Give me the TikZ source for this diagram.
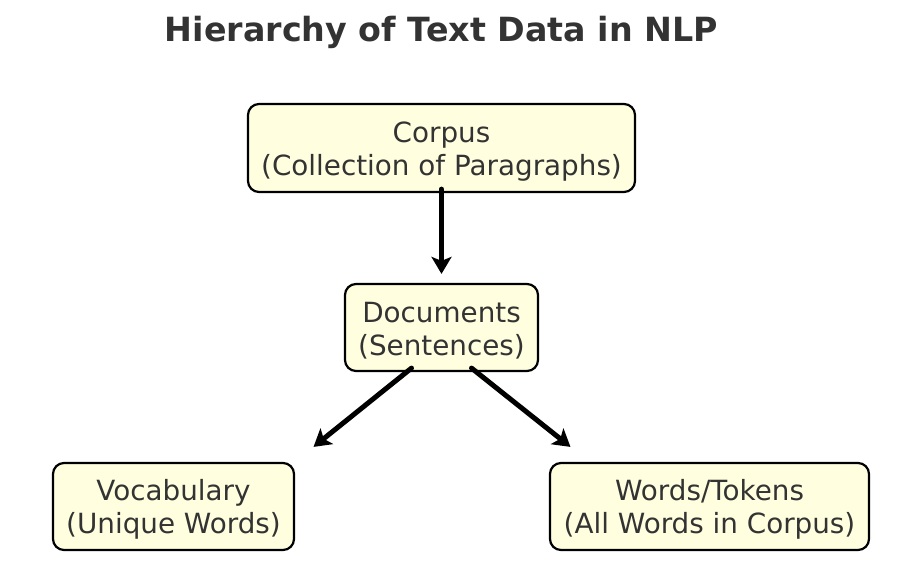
\documentclass[tikz,border=0pt]{standalone}
\usepackage{fontspec}
\setmainfont{DejaVu Sans}
\usetikzlibrary{arrows.meta}
\definecolor{boxfill}{HTML}{FFFFE0}
\definecolor{txt}{HTML}{333333}
\newcommand\toprow{\rule{0pt}{27pt}}
\tikzset{
  levelbox/.style={draw=black,line width=2.2pt,rounded corners=11pt,fill=boxfill,
    text=txt,align=center,font=\fontsize{27.8}{33}\selectfont,inner sep=0pt},
  flow/.style={line width=5pt,line cap=round,-{Stealth[length=17pt,width=20pt,inset=4pt]}}
}
\begin{document}
\begin{tikzpicture}[x=1pt,y=-1pt]
			\useasboundingbox (0,0) rectangle (901,567);
			\node[text=txt,font=\bfseries\fontsize{33.3}{40}\selectfont] (title) at (441.5,32) {Hierarchy of Text Data in NLP};
			\node[levelbox,minimum width=387pt,minimum height=88pt] (corpus) at (441.5,148) {\toprow Corpus\\(Collection of Paragraphs)};
			\node[levelbox,minimum width=193pt,minimum height=87pt] (docs) at (441.5,327.5) {\toprow Documents\\(Sentences)};
			\node[levelbox,minimum width=241pt,minimum height=87pt] (vocab) at (173.5,506.5) {\toprow Vocabulary\\(Unique Words)};
			\node[levelbox,minimum width=319pt,minimum height=87pt] (tokens) at (709.5,506.5) {\toprow Words/Tokens\\(All Words in Corpus)};
			\draw[flow]([yshift=4pt]corpus.south)--([yshift=9pt]docs.north);
			\draw[flow]([xshift=-30pt,yshift=4pt]docs.south)--([xshift=140pt,yshift=15pt]vocab.north);
			\draw[flow]([xshift=30pt,yshift=4pt]docs.south)--([xshift=-139pt,yshift=15pt]tokens.north);
		\end{tikzpicture}
\end{document}
